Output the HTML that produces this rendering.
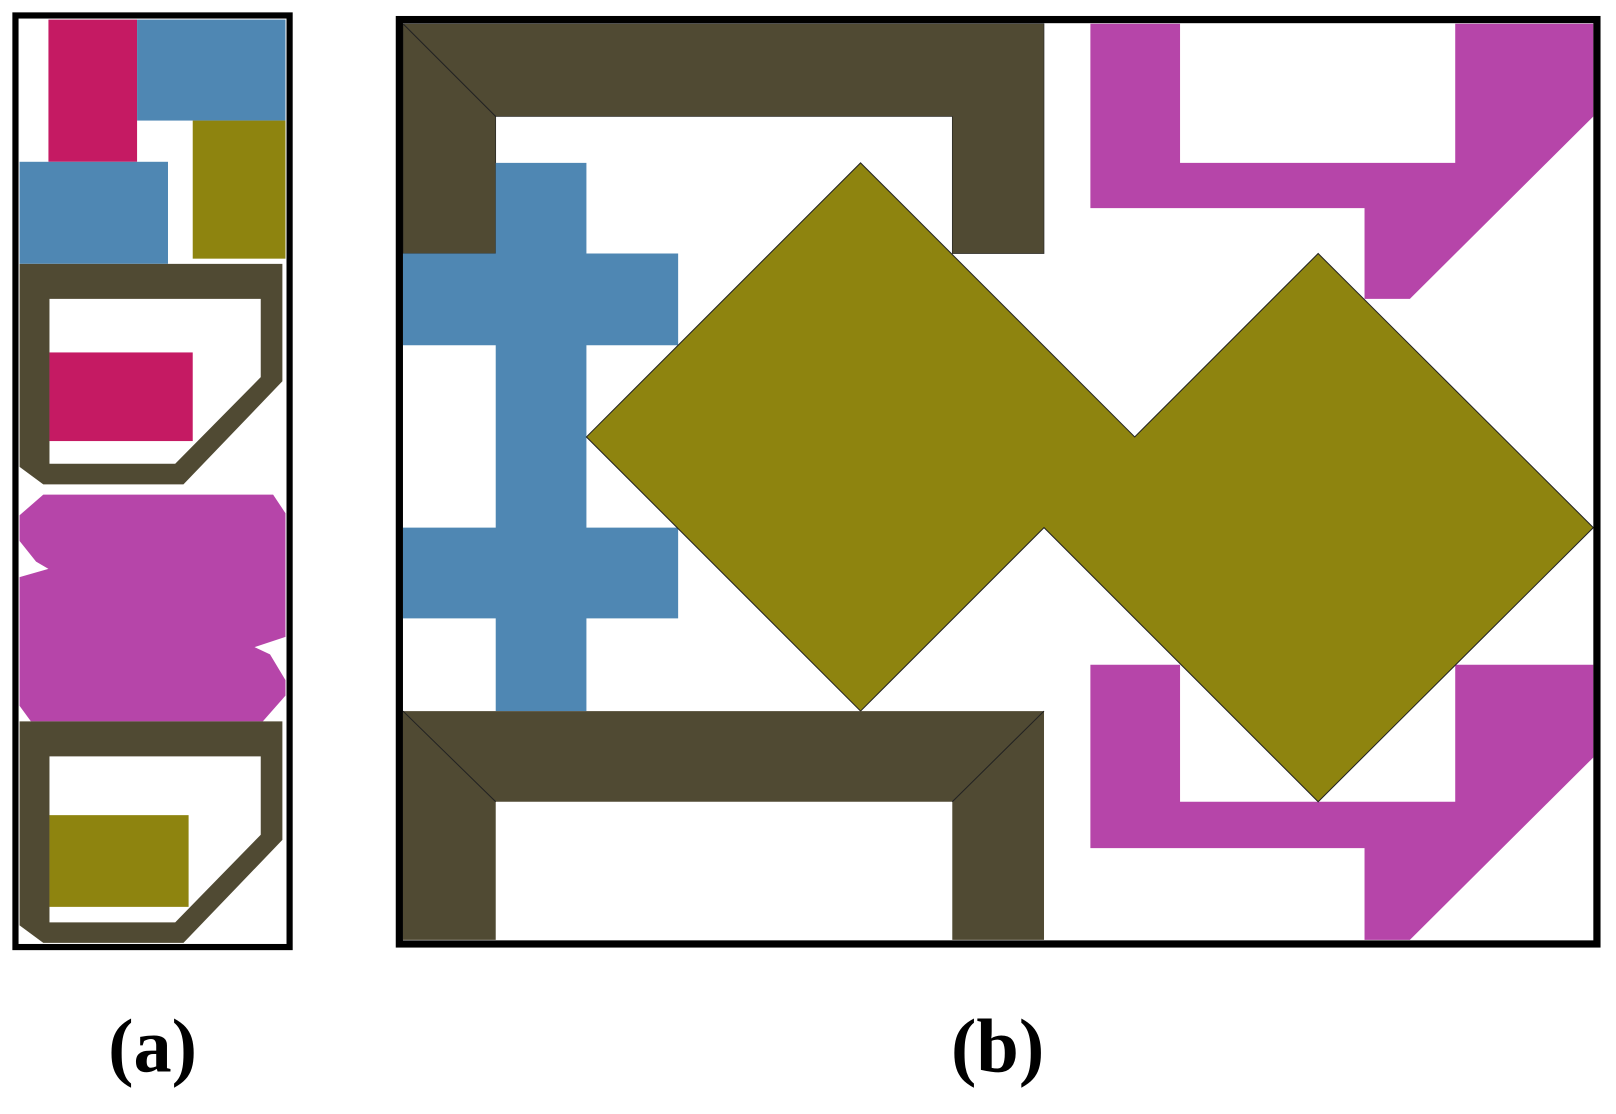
<!DOCTYPE html>
<html><head><meta charset="utf-8"><style>
html,body{margin:0;padding:0;background:#fff;}
svg{display:block;}
</style></head><body>
<svg width="1616" height="1114" viewBox="0 0 1568 1081" preserveAspectRatio="none" xmlns="http://www.w3.org/2000/svg">
<rect x="0" y="0" width="1568" height="1081" fill="#fff"/>
<!-- panel a -->
<rect x="47" y="19" width="86" height="138" fill="#c51a63"/>
<rect x="133" y="19" width="144" height="98" fill="#4f87b3"/>
<rect x="19" y="157" width="144" height="99" fill="#4f87b3"/>
<rect x="187" y="117" width="90" height="134" fill="#8e840f"/>
<path fill-rule="evenodd" fill="#504a33" d="M19,256 L274,256 L274,370 L178,470 L42,470 L19,453 Z M48,290 L253,290 L253,366 L170,450 L48,450 Z"/>
<rect x="48" y="342" width="139" height="86" fill="#c51a63"/>
<path fill="#b645a9" d="M42,480 L265,480 L277,498 L277,618 L247,628 L262,635 L277,660 L277,675 L255,700 L30,700 L19,685 L19,560 L47,552 L35,545 L19,525 L19,500 Z"/>
<path fill-rule="evenodd" fill="#504a33" d="M19,700 L274,700 L274,815 L178,915 L42,915 L19,898 Z M48,734 L253,734 L253,810 L170,895 L48,895 Z"/>
<rect x="48" y="791" width="135" height="89" fill="#8e840f"/>
<rect x="15" y="15" width="266" height="904" fill="none" stroke="#000" stroke-width="6"/>
<!-- panel b -->
<path fill="#504a33" stroke="#222" stroke-width="0.6" d="M391,23 L1013,23 L1013,246 L924,246 L924,113 L481,113 L481,246 L391,246 Z"/>
<line x1="391" y1="23" x2="481" y2="113" stroke="#222" stroke-width="1"/>
<path fill="#4f87b3" d="M481,158 L569,158 L569,246 L658,246 L658,335 L569,335 L569,512 L658,512 L658,600 L569,600 L569,690 L481,690 L481,600 L391,600 L391,512 L481,512 L481,335 L391,335 L391,246 L481,246 Z"/>
<path fill="#b645a9" d="M1058,23 L1145,23 L1145,158 L1412,158 L1412,23 L1546,23 L1546,113 L1368,290 L1324,290 L1324,202 L1058,202 Z"/>
<path fill="#b645a9" d="M1058,645 L1145,645 L1145,778 L1412,778 L1412,645 L1546,645 L1546,735 L1368,912 L1324,912 L1324,823 L1058,823 Z"/>
<path fill="#8e840f" stroke="#222" stroke-width="1" d="M835,158 L1101,424 L1279,246 L1546,512 L1279,778 L1013,512 L835,690 L569,424 Z"/>
<path fill="#504a33" d="M391,690 L1013,690 L1013,912 L924,912 L924,778 L481,778 L481,912 L391,912 Z"/>
<path d="M391,690 L481,778 M1013,690 L924,778" stroke="#222" stroke-width="1" fill="none"/>
<rect x="387.5" y="19" width="1162" height="897" fill="none" stroke="#000" stroke-width="7"/>
<text x="148" y="1040" text-anchor="middle" font-family="Liberation Serif, serif" font-weight="bold" font-size="74">(a)</text>
<text x="968" y="1040" text-anchor="middle" font-family="Liberation Serif, serif" font-weight="bold" font-size="74">(b)</text>
</svg>
</body></html>
